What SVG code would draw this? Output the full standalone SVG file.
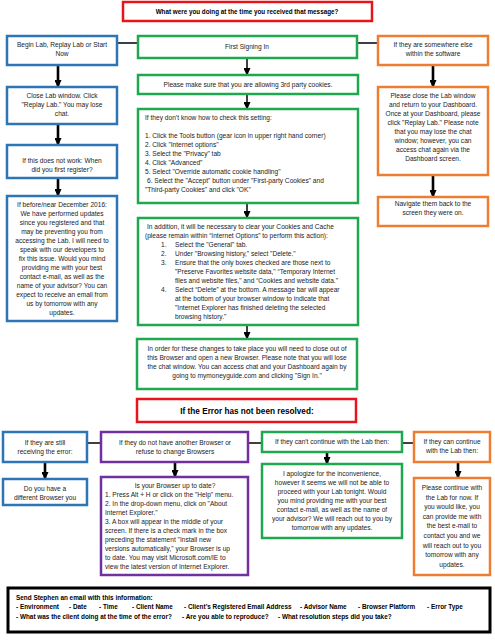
<svg xmlns="http://www.w3.org/2000/svg" width="495" height="640" viewBox="0 0 495 640">
<defs>
<marker id="ah" markerUnits="userSpaceOnUse" markerWidth="8" markerHeight="7" refX="7" refY="3.5" orient="auto">
<path d="M0,0 L8,3.5 L0,7 Z" fill="#000"/>
</marker>
<style>
rect{fill:#fff;stroke-width:2.5}
.b{stroke:#2E75B6}.g{stroke:#1FA84F}.o{stroke:#ED7D31}.r{stroke:#E8141B}.p{stroke:#7030A0}.k{stroke:#000;stroke-width:3}
text{font-family:"Liberation Sans",Arial,sans-serif;font-size:6.6px;fill:#222}
.c{text-anchor:middle}
.t{font-weight:bold;font-size:6.3px;fill:#000}
.h{font-weight:bold;font-size:8.2px;fill:#000}
.s{font-weight:bold;font-size:6.4px;fill:#000}
.ln{stroke:#000;fill:none}
.thin{stroke-width:1.5}
.thick{stroke-width:2.6}
</style>
</defs>
<g id="connectors">
<path class="ln thin" d="M117,43 H138 M357,43 H378 M87,443 H101 M248,443 H262 M402,443 H414"/>
<path class="ln thin" d="M247,58 V75" marker-end="url(#ah)"/>
<path class="ln thin" d="M247,94 V109" marker-end="url(#ah)"/>
<path class="ln thin" d="M247,203 V218" marker-end="url(#ah)"/>
<path class="ln thin" d="M247,325 V339" marker-end="url(#ah)"/>
<path class="ln thick" d="M58,65 V87" marker-end="url(#ah)"/>
<path class="ln thick" d="M58,124 V145" marker-end="url(#ah)"/>
<path class="ln thick" d="M58,178 V196" marker-end="url(#ah)"/>
<path class="ln thick" d="M433,65 V87" marker-end="url(#ah)"/>
<path class="ln thick" d="M433,175 V197" marker-end="url(#ah)"/>
<path class="ln thick" d="M45,462 V479" marker-end="url(#ah)"/>
<path class="ln thick" d="M175,462 V477" marker-end="url(#ah)"/>
<path class="ln thick" d="M327,452 V464" marker-end="url(#ah)"/>
<path class="ln thick" d="M458,462 V478" marker-end="url(#ah)"/>
</g>
<g id="title"><rect class="r" x="123" y="2" width="249" height="19"/><text class="t c" x="247" y="14">What were you doing at the time you received that message?</text></g>
<g id="begin"><rect class="b" x="7" y="36" width="110" height="29"/><text class="c" x="62" y="47">Begin Lab, Replay Lab or Start</text><text class="c" x="62" y="56">Now</text></g>
<g id="first"><rect class="g" x="138" y="36" width="219" height="22"/><text class="c" x="247" y="49">First Signing In</text></g>
<g id="else"><rect class="o" x="378" y="36" width="110" height="29"/><text class="c" x="433" y="47">If they are somewhere else</text><text class="c" x="433" y="56">within the software</text></g>
<g id="close"><rect class="b" x="7" y="87" width="110" height="37"/><text class="c" x="62" y="98">Close Lab window.  Click</text><text class="c" x="62" y="107">"Replay Lab."  You may lose</text><text class="c" x="62" y="116">chat.</text></g>
<g id="ifthis"><rect class="b" x="7" y="145" width="110" height="33"/><text class="c" x="62" y="163">If this does not work:  When</text><text class="c" x="62" y="172">did you first register?</text></g>
<g id="before"><rect class="b" x="7" y="196" width="110" height="125"/>
<text class="c" x="62" y="207">If before/near December 2016:</text>
<text class="c" x="62" y="216">We have performed updates</text>
<text class="c" x="62" y="225">since you registered and that</text>
<text class="c" x="62" y="234">may be preventing you from</text>
<text class="c" x="62" y="243">accessing the Lab. I will need to</text>
<text class="c" x="62" y="252">speak with our developers to</text>
<text class="c" x="62" y="261">fix this issue. Would you mind</text>
<text class="c" x="62" y="270">providing me with your best</text>
<text class="c" x="62" y="279">contact e-mail, as well as the</text>
<text class="c" x="62" y="288">name of your advisor? You can</text>
<text class="c" x="62" y="297">expect to receive an email from</text>
<text class="c" x="62" y="306">us by tomorrow with any</text>
<text class="c" x="62" y="315">updates.</text></g>
<g id="cookies"><rect class="g" x="138" y="75" width="220" height="19"/><text class="c" x="248" y="87">Please make sure that you are allowing 3rd party cookies.</text></g>
<g id="dontknow"><rect class="g" x="138" y="109" width="220" height="94"/>
<text x="145" y="120">If they don’t know how to check this setting:</text>
<text x="145" y="138">1. Click the Tools button (gear icon in upper right hand corner)</text>
<text x="145" y="147">2. Click "Internet options"</text>
<text x="145" y="156">3. Select the "Privacy" tab</text>
<text x="145" y="165">4. Click "Advanced"</text>
<text x="145" y="174">5. Select "Override automatic cookie handling"</text>
<text x="147" y="183">6. Select the "Accept" button under "First-party Cookies" and</text>
<text x="145" y="192">"Third-party Cookies" and click "OK"</text></g>
<g id="addition"><rect class="g" x="138" y="218" width="220" height="107"/>
<text x="147" y="229">In addition, it will be necessary to clear your Cookies and Cache</text>
<text x="145" y="238">(please remain within “Internet Options” to perform this action):</text>
<text x="161" y="247">1.</text><text x="175" y="247">Select the "General" tab.</text>
<text x="161" y="256">2.</text><text x="175" y="256">Under "Browsing history," select "Delete."</text>
<text x="161" y="265">3.</text><text x="175" y="265">Ensure that the only boxes checked are those next to</text>
<text x="175" y="274">"Preserve Favorites website data," “Temporary Internet</text>
<text x="175" y="283">files and website files," and “Cookies and website data."</text>
<text x="161" y="292">4.</text><text x="175" y="292">Select “Delete” at the bottom. A message bar will appear</text>
<text x="175" y="301">at the bottom of your browser window to indicate that</text>
<text x="175" y="310">"Internet Explorer has finished deleting the selected</text>
<text x="175" y="319">browsing history."</text></g>
<g id="inorder"><rect class="g" x="137" y="339" width="220" height="50"/>
<text class="c" x="247" y="351">In order for these changes to take place you will need to close out of</text>
<text class="c" x="247" y="360">this Browser and open a new Browser. Please note that you will lose</text>
<text class="c" x="247" y="369">the chat window. You can access chat and your Dashboard again by</text>
<text class="c" x="247" y="378">going to mymoneyguide.com and clicking "Sign In."</text></g>
<g id="error"><rect class="r" x="137" y="399" width="219" height="23"/><text class="h c" x="247" y="413.8">If the Error has not been resolved:</text></g>
<g id="closelab"><rect class="o" x="378" y="87" width="110" height="88"/>
<text class="c" x="433" y="98">Please close the Lab window</text>
<text class="c" x="433" y="107">and return to your Dashboard.</text>
<text class="c" x="433" y="116">Once at your Dashboard, please</text>
<text class="c" x="433" y="125">click "Replay Lab." Please note</text>
<text class="c" x="433" y="134">that you may lose the chat</text>
<text class="c" x="433" y="143">window; however, you can</text>
<text class="c" x="433" y="152">access chat again via the</text>
<text class="c" x="433" y="161">Dashboard screen.</text></g>
<g id="navigate"><rect class="o" x="378" y="197" width="110" height="29"/><text class="c" x="433" y="206">Navigate them back to the</text><text class="c" x="433" y="215">screen they were on.</text></g>
<g id="still"><rect class="b" x="3" y="432" width="84" height="30"/><text class="c" x="45" y="445">If they are still</text><text class="c" x="45" y="454">receiving the error:</text></g>
<g id="nobrowser"><rect class="p" x="101" y="432" width="147" height="30"/><text class="c" x="175" y="445">If they do not have another Browser or</text><text class="c" x="175" y="454">refuse to change Browsers</text></g>
<g id="cant"><rect class="g" x="262" y="432" width="140" height="20"/><text class="c" x="332" y="444">If they can't continue with the Lab then:</text></g>
<g id="can"><rect class="o" x="414" y="432" width="76" height="30"/><text class="c" x="452" y="444">If they can continue</text><text class="c" x="452" y="453">with the Lab then:</text></g>
<g id="different"><rect class="b" x="3" y="479" width="84" height="26"/><text class="c" x="45" y="491">Do you have a</text><text class="c" x="45" y="500">different Browser you</text></g>
<g id="uptodate"><rect class="p" x="101" y="477" width="147" height="98"/>
<text class="c" x="175" y="488">Is your Browser up to date?</text>
<text x="105" y="497">1. Press Alt + H or click on the "Help" menu.</text>
<text x="105" y="506">2. In the drop-down menu, click on "About</text>
<text x="105" y="515">Internet Explorer."</text>
<text x="105" y="524">3. A box will appear in the middle of your</text>
<text x="105" y="533">screen. If there is a check mark in the box</text>
<text x="105" y="542">preceding the statement "Install new</text>
<text x="105" y="551">versions automatically," your Browser is up</text>
<text x="105" y="560">to date. You may visit Microsoft.com/IE to</text>
<text x="105" y="569">view the latest version of Internet Explorer.</text></g>
<g id="apologize"><rect class="g" x="262" y="464" width="140" height="74"/>
<text class="c" x="332" y="476">I apologize for the inconvenience,</text>
<text class="c" x="332" y="485">however it seems we will not be able to</text>
<text class="c" x="332" y="494">proceed with your Lab tonight. Would</text>
<text class="c" x="332" y="503">you mind providing me with your best</text>
<text class="c" x="332" y="512">contact e-mail, as well as the name of</text>
<text class="c" x="332" y="521">your advisor? We will reach out to you by</text>
<text class="c" x="332" y="530">tomorrow with any updates.</text></g>
<g id="continue"><rect class="o" x="414" y="478" width="76" height="97"/>
<text class="c" x="452" y="490">Please continue with</text>
<text class="c" x="452" y="499.6">the Lab for now. If</text>
<text class="c" x="452" y="509.2">you would like, you</text>
<text class="c" x="452" y="518.8">can provide me with</text>
<text class="c" x="452" y="528.4">the best e-mail to</text>
<text class="c" x="452" y="538">contact you and we</text>
<text class="c" x="452" y="547.6">will reach out to you</text>
<text class="c" x="452" y="557.2">tomorrow with any</text>
<text class="c" x="452" y="566.8">updates.</text></g>
<g id="email"><rect class="k" x="8" y="588" width="482" height="44"/>
<text class="s" x="16" y="600">Send Stephen an email with this information:</text>
<text class="s" x="16" y="609">- Environment</text><text class="s" x="69" y="609">- Date</text><text class="s" x="99" y="609">- Time</text><text class="s" x="132" y="609">- Client Name</text><text class="s" x="184" y="609">- Client’s Registered Email Address</text><text class="s" x="300" y="609">- Advisor Name</text><text class="s" x="358" y="609">- Browser Platform</text><text class="s" x="427" y="609">- Error Type</text>
<text class="s" x="16" y="619">- What was the client doing at the time of the error?</text><text class="s" x="182" y="619">- Are you able to reproduce?</text><text class="s" x="278" y="619">- What resolution steps did you take?</text></g>
</svg>
